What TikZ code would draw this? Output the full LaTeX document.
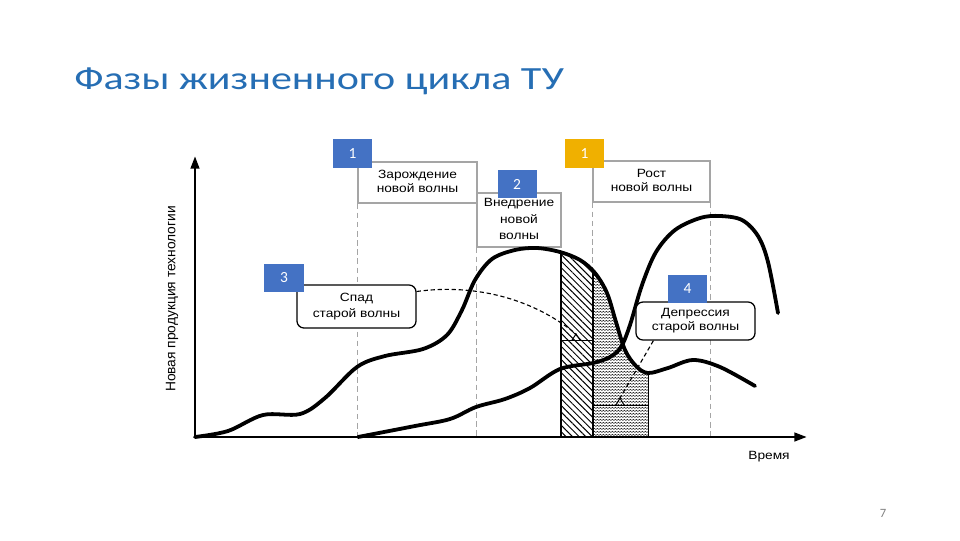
\documentclass[tikz,border=0pt]{standalone}
\usepackage{fontspec}
\usepackage{graphicx}
\setmainfont{Carlito}
\newfontfamily\arialf{Liberation Sans}
\usetikzlibrary{arrows.meta,patterns,patterns.meta}
\pgfdeclarepattern{
  name=zigzag,
  type=uncolored,
  bottom left={\pgfpoint{0pt}{0pt}},
  top right={\pgfpoint{2.4pt}{1.9pt}},
  tile size={\pgfpoint{2.4pt}{1.9pt}},
  code={\pgfsetlinewidth{0.45pt}
    \pgfpathmoveto{\pgfpoint{0pt}{0.4pt}}
    \pgfpathlineto{\pgfpoint{1.2pt}{1.4pt}}
    \pgfpathlineto{\pgfpoint{2.4pt}{0.4pt}}
    \pgfusepath{stroke}}
}
\definecolor{titleblue}{RGB}{38,110,180}
\definecolor{numblue}{RGB}{68,114,196}
\definecolor{numorange}{RGB}{240,176,0}
\definecolor{boxgray}{RGB}{165,165,165}
\newcommand\wtxt[1]{\scalebox{1.15}[1]{\begin{tabular}{@{}c@{}}#1\end{tabular}}}
\begin{document}
\begin{tikzpicture}[x=0.025cm,y=-0.025cm,
  phasebox/.style={draw=boxgray,line width=0.8pt,inner sep=0pt,font=\arialf\fontsize{8.5}{10.5}\selectfont},
  oldbox/.style={draw=black,line width=0.9pt,rounded corners=5pt,fill=white,inner sep=0pt,font=\arialf\fontsize{8.5}{11.5}\selectfont},
  numsq/.style={fill=#1,text=white,minimum width=0.975cm,minimum height=0.7cm,inner sep=0pt,font=\fontsize{11}{13}\selectfont},
  guide/.style={draw=boxgray,line width=0.7pt,dash pattern=on 4pt off 2.5pt},
  wave/.style={line width=2.7pt,line cap=round,line join=round},
  decline/.style={line width=0.8pt,dash pattern=on 3pt off 2pt},
  axisline/.style={line width=2pt,-{Triangle[length=9pt,width=6pt]}},
  marker/.style={line width=0.7pt}
]
\useasboundingbox[fill=white] (0,0) rectangle (960,540);

% title and page number
\node[anchor=base west,text=titleblue,font=\fontsize{23}{28}\selectfont,inner sep=0pt] (title) at (74,89) {\scalebox{1.3}[1]{Фазы жизненного цикла ТУ}};
\node[text=gray,font=\fontsize{9}{11}\selectfont] (page) at (883,513) {7};

% coordinates of the axes
\coordinate (O) at (195,437);
\coordinate (ytip) at (195,156);
\coordinate (xtip) at (807,437);

% phase boxes
\node[phasebox,minimum width=2.975cm,minimum height=1.025cm] (zar) at (417.5,182.5) {\wtxt{Зарождение\\новой волны}};
\node[phasebox,minimum width=2.1cm,minimum height=1.35cm,font=\arialf\fontsize{8.5}{11.8}\selectfont] (vne) at (519,220) {\raisebox{-2pt}{\wtxt{Внедрение\\новой\\волны}}};
\node[phasebox,minimum width=2.925cm,minimum height=1.025cm] (rost) at (651.5,181.5) {\wtxt{Рост\\новой волны}};

% guide lines
\draw[guide] (zar.south west) -- (zar.south west |- O);
\draw[guide] (vne.south west) -- (vne.south west |- O);
\draw[guide] (rost.south west) -- (rost.south west |- O);
\draw[guide] (rost.south east) -- (rost.south east |- O);

% shaded regions under the old wave
\begin{scope}
\clip plot[smooth,tension=0.55] coordinates {(195,437) (228,431) (263,415) (300,414) (325,398) (357,367) (385,356) (423,349) (447,335) (462,310) (475,280) (492,259) (515,250) (537,248) (560,252) (580,260) (595,273) (607,293) (616,322) (625,350) (636,366) (648,373) (668,368) (693,360) (720,367) (755,386)} -- (755,440) -- (195,440) -- cycle;
\fill[pattern={Lines[angle=-45,distance=3.3pt,line width=0.7pt]}] (561,437) rectangle (593,200);
\fill[pattern=zigzag,pattern color=black!85] (593,437) rectangle (648,200);
\draw[line width=0.8pt] (561,437) -- (561,200);
\draw[line width=0.8pt] (593,437) -- (593,200);
\draw[line width=0.5pt] (648,437) -- (648,200);
\end{scope}

% markers
\coordinate (m1) at (576,334);
\coordinate (m2) at (620,398);
\draw[marker] (561,340) -- (593,340);
\draw[marker] (572,340) -- (m1) -- (580,340);
\draw[marker] (593,405) -- (648,405);
\draw[marker] (616,405) -- (m2) -- (624,405);

% waves
\draw[wave] plot[smooth,tension=0.55] coordinates {(195,437) (228,431) (263,415) (300,414) (325,398) (357,367) (385,356) (423,349) (447,335) (462,310) (475,280) (492,259) (515,250) (537,248) (560,252) (580,260) (595,273) (607,293) (616,322) (625,350) (636,366) (648,373) (668,368) (693,360) (720,367) (755,386)};
\draw[wave] plot[smooth,tension=0.55] coordinates {(358,437) (415,426) (450,419) (476,407) (505,399) (530,388) (560,369) (593,363) (610,357) (621,347) (630,325) (642,285) (656,252) (675,230) (700,218) (720,216) (742,220) (758,236) (768,262) (778,313)};

% axes
\draw[axisline] (O) -- (ytip);
\draw[axisline] (O) -- (xtip);
\node[rotate=90,font=\arialf\fontsize{9.8}{12}\selectfont] (ylab) at (172,299) {Новая продукция технологии};
\node[font=\arialf\fontsize{8.5}{10}\selectfont] (time) at (769,457) {\scalebox{1.15}[1]{Время}};

% old wave boxes
\node[oldbox,minimum width=2.975cm,minimum height=1.075cm] (spad) at (356.5,306.5) {\wtxt{Спад\\старой волны}};
\node[oldbox,minimum width=2.975cm,minimum height=0.95cm,font=\arialf\fontsize{8.5}{10}\selectfont] (dep) at (695.5,321) {\wtxt{Депрессия\\старой волны}};
\draw[decline] (spad.14) .. controls (470,284) and (530,296) .. (m1);
\draw[decline] (dep.205) -- (m2);

% number squares
\node[numsq=numblue] (n1) at (352.5,153.5) {1};
\node[numsq=numorange] (n1b) at (584.5,153.5) {1};
\node[numsq=numblue] (n2) at (517,184) {2};
\node[numsq=numblue] (n3) at (284,277.5) {3};
\node[numsq=numblue] (n4) at (687.5,289) {4};
\end{tikzpicture}
\end{document}
